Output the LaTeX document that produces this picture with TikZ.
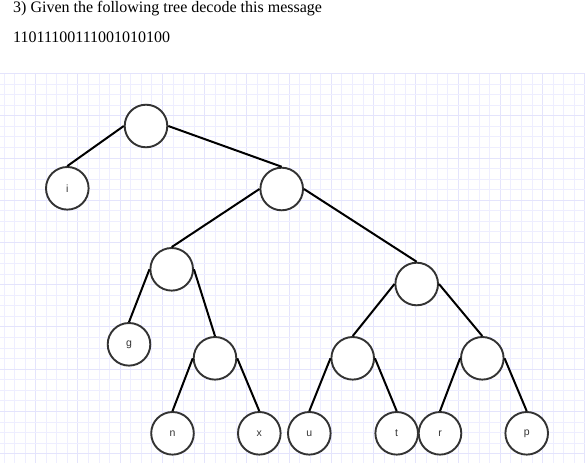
\documentclass[tikz,border=0pt]{standalone}
\usepackage{fontspec}
\setmainfont{Liberation Serif}
\newfontfamily\labelfont{Liberation Sans}
\definecolor{gridminor}{RGB}{238,238,255}
\definecolor{gridmajor}{RGB}{228,228,252}
\definecolor{outline}{RGB}{51,51,51}
\tikzset{
  treenode/.style={circle, draw=outline, line width=1.9pt, fill=white, minimum size=42.6pt, inner sep=0pt, font=\labelfont\fontsize{10.5}{12}\selectfont, text=outline},
  edge/.style={draw=black, line width=2pt},
  headtext/.style={anchor=base west, inner sep=0pt, font=\fontsize{16}{18}\selectfont}
}
\begin{document}
\begin{tikzpicture}[x=1pt,y=-1pt]
\useasboundingbox (0,0) rectangle (585,463);
\fill[white] (0,0) rectangle (585,463);
% grid
\begin{scope}
\clip (0,73.5) rectangle (585,463);
\foreach \i in {0,...,55} {
  \pgfmathtruncatemacro{\m}{mod(\i,4)}
  \ifnum\m=3
    \draw[gridmajor, line width=0.9pt] ({4+\i*10.56},73.5) -- ({4+\i*10.56},463);
  \else
    \draw[gridminor, line width=0.9pt] ({4+\i*10.56},73.5) -- ({4+\i*10.56},463);
  \fi
}
\foreach \j in {0,...,37} {
  \pgfmathtruncatemacro{\m}{mod(\j,4)}
  \ifnum\m=0
    \draw[gridmajor, line width=0.9pt] (0,{73.5+\j*10.56}) -- (585,{73.5+\j*10.56});
  \else
    \draw[gridminor, line width=0.9pt] (0,{73.5+\j*10.56}) -- (585,{73.5+\j*10.56});
  \fi
}
\end{scope}
% heading
\node[headtext] (title) at (13,12.7) {3) Given the following tree decode this message};
\node[headtext] (code) at (13,42.3) {11011100111001010100};
% nodes
\node[treenode] (root) at (146,126) {};
\node[treenode] (i) at (67.3,188.3) {i};
\node[treenode] (R) at (281.7,189) {};
\node[treenode] (L) at (171.7,269.3) {};
\node[treenode] (RR) at (416.7,284) {};
\node[treenode] (g) at (129,344.3) {g};
\node[treenode] (NX) at (215,358.3) {};
\node[treenode] (UT) at (352.7,358.3) {};
\node[treenode] (RP) at (482.3,358.3) {};
\node[treenode] (n) at (172.5,433.3) {n};
\node[treenode] (x) at (259.3,433.3) {x};
\node[treenode] (u) at (309.3,433.3) {u};
\node[treenode] (t) at (396.7,433.3) {t};
\node[treenode] (r) at (440,433.3) {r};
\node[treenode] (p) at (526.7,433.3) {p};
% edges
\draw[edge] (root.west) -- (i.north);
\draw[edge] (root.east) -- (R.north);
\draw[edge] (R.west) -- (L.north);
\draw[edge] (R.east) -- (RR.north);
\draw[edge] (L.west) -- (g.north);
\draw[edge] (L.east) -- (NX.north);
\draw[edge] (NX.west) -- (n.north);
\draw[edge] (NX.east) -- (x.north);
\draw[edge] (RR.west) -- (UT.north);
\draw[edge] (RR.east) -- (RP.north);
\draw[edge] (UT.west) -- (u.north);
\draw[edge] (UT.east) -- (t.north);
\draw[edge] (RP.west) -- (r.north);
\draw[edge] (RP.east) -- (p.north);
\end{tikzpicture}
\end{document}
